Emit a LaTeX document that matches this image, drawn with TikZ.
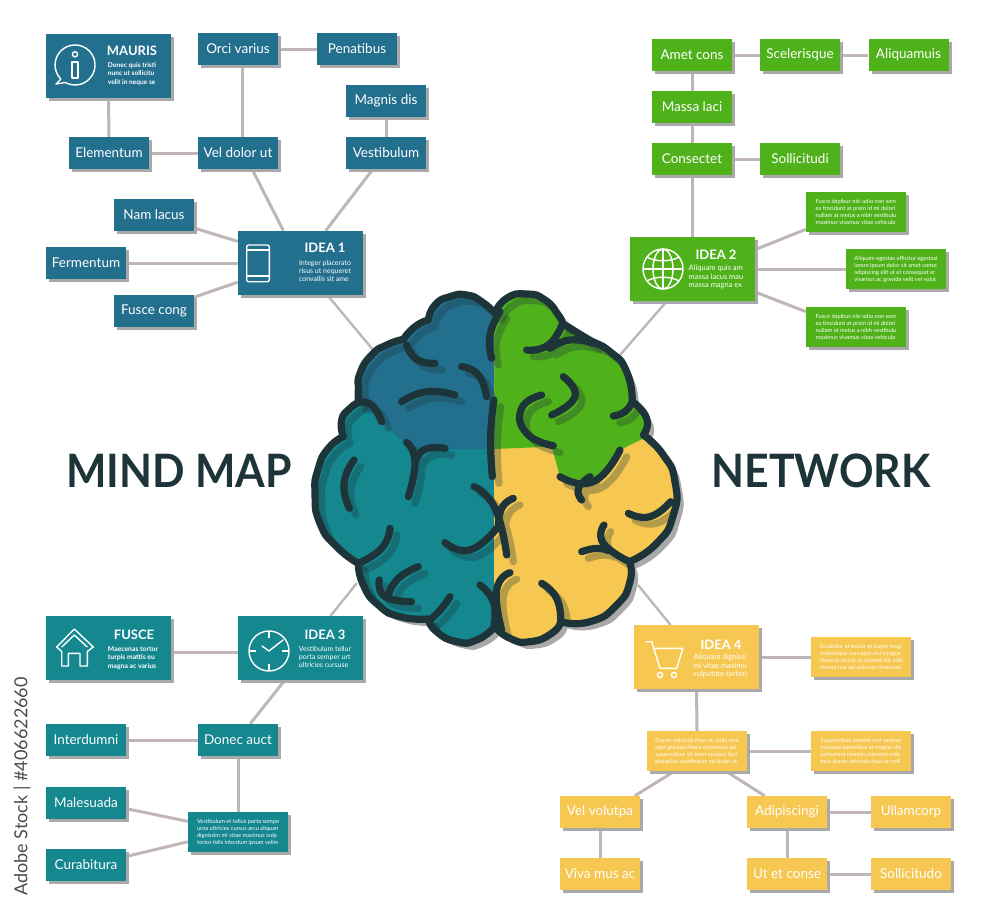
\documentclass[tikz,border=0pt]{standalone}
\usepackage{fontspec}
\setmainfont{Lato}
\usetikzlibrary{shadows,backgrounds}
\definecolor{ideablue}{HTML}{236F8E}
\definecolor{ideateal}{HTML}{14878F}
\definecolor{ideagreen}{HTML}{50B21A}
\definecolor{ideayellow}{HTML}{F6C852}
\definecolor{linkgray}{HTML}{BFB5BA}
\definecolor{shadegray}{HTML}{A9A9A9}
\definecolor{braindark}{HTML}{1D3439}
\tikzset{
	flatbox/.style={draw=none,inner sep=0pt,text=white,drop shadow={shadow xshift=3pt,shadow yshift=-3pt,fill=shadegray,opacity=1}},
	wordbox/.style={flatbox,minimum width=80,minimum height=32,font=\fontsize{13.5}{15}\selectfont},
	ideabox/.style={flatbox,minimum width=125,minimum height=64},
	notebox/.style={flatbox,minimum width=100,minimum height=40,align=left,font=\fontsize{5.7}{7}\selectfont},
	headtext/.style={text=white,inner sep=0pt,font=\fontsize{13}{14}\bfseries\selectfont},
	bodytext/.style={text=white,inner sep=0pt,align=left,font=\fontsize{7}{8.4}\selectfont},
	icon/.style={draw=white,line width=1.4pt,line join=round},
	link/.style={draw=linkgray,line width=3pt},
	fold/.style={draw=braindark,line width=7.2pt,line cap=round,line join=round},
	rim/.style={smooth,tension=1},
	title/.style={text=braindark,inner sep=0pt,xscale=.93,font=\fontsize{46}{50}\bfseries\selectfont}
}
\newcommand{\foldline}[1]{plot[smooth,tension=.9] coordinates {#1}}
\newcommand{\brainrim}{
	plot[rim] coordinates {(585,100) (620,55) (680,42) (735,60) (775,105) (788,130)}
	-- plot[rim] coordinates {(788,130) (860,175) (930,215) (980,275) (997,365)}
	-- plot[rim] coordinates {(997,365) (1040,415) (1030,465)}
	-- plot[rim] coordinates {(1030,465) (1090,525) (1125,605) (1120,705) (1070,790) (988,845)}
	-- plot[rim] coordinates {(988,845) (990,905) (950,975) (870,1025) (782,1025)}
	-- plot[rim] coordinates {(782,1025) (755,1060) (690,1085) (630,1075) (585,1040)}
	-- plot[rim] coordinates {(585,1040) (530,1080) (470,1085) (410,1055) (385,1017)}
	-- plot[rim] coordinates {(385,1017) (300,1010) (235,975) (190,915) (175,850)}
	-- plot[rim] coordinates {(175,850) (110,800) (60,730) (45,640) (55,565) (85,505) (130,470)}
	-- plot[rim] coordinates {(130,470) (125,420) (150,385) (175,368)}
	-- plot[rim] coordinates {(175,368) (175,330) (180,280) (215,225) (260,195) (310,178)}
	-- plot[rim] coordinates {(310,178) (345,140) (385,120)}
	-- plot[rim] coordinates {(385,120) (405,75) (450,50) (500,45) (545,65) (585,100)}
	-- cycle
}
\newcommand{\brainfolds}{
	\foldline{(320,195) (350,238) (405,250)}
	\foldline{(485,260) (535,285) (560,350)}
	\foldline{(305,365) (380,335) (465,345)}
	\foldline{(575,235) (570,165) (600,95)}
	\foldline{(582,360) (572,470) (577,590)}
	\foldline{(175,368) (215,375) (245,425)}
	\foldline{(320,487) (345,545) (325,650)}
	\foldline{(345,545) (375,508) (435,505)}
	\foldline{(162,540) (132,610) (148,685)}
	\foldline{(270,745) (245,805) (175,850)}
	\foldline{(522,620) (585,685) (620,825)}
	\foldline{(640,655) (605,685) (595,745)}
	\foldline{(435,788) (510,810) (590,745)}
	\foldline{(355,860) (295,895) (265,945)}
	\foldline{(238,900) (255,950) (335,965)}
	\foldline{(450,950) (425,985) (390,1020)}
	\foldline{(540,915) (580,965) (582,1035)}
	\foldline{(630,878) (590,930) (605,1050)}
	\foldline{(725,910) (770,955) (782,1025)}
	\foldline{(680,210) (745,195) (788,130)}
	\foldline{(750,205) (810,180) (880,190)}
	\foldline{(790,290) (825,350) (755,405)}
	\foldline{(725,345) (665,385) (680,460) (760,497)}
	\foldline{(940,408) (975,395) (997,365)}
	\foldline{(780,590) (880,605) (960,510)}
	\foldline{(845,660) (835,625) (870,590)}
	\foldline{(985,700) (1050,710) (1112,665)}
	\foldline{(912,735) (910,790) (988,845)}
	\foldline{(845,815) (890,805) (925,812)}
}
\begin{document}
\begin{tikzpicture}[x=1pt,y=-1pt]
	\useasboundingbox (0,0) rectangle (1000,919);

	% idea 1, blue
	\node[ideabox,fill=ideablue] (mauris) at (108.5,65.5) {};
	\node[headtext] (maurishead) at (132,51) {MAURIS};
	\node[bodytext,font=\fontsize{6.6}{8.5}\bfseries\selectfont] (maurisbody) at (132,74) {Donec quis tristi\\nunc ut sollicitu\\velit in neque se};
	\node[wordbox,fill=ideablue] (orci) at (238,49) {Orci varius};
	\node[wordbox,fill=ideablue] (penatibus) at (357,49) {Penatibus};
	\node[wordbox,fill=ideablue] (magnis) at (386,101) {Magnis dis};
	\node[wordbox,fill=ideablue] (elementum) at (109,153) {Elementum};
	\node[wordbox,fill=ideablue] (veldolor) at (238,153) {Vel dolor ut};
	\node[wordbox,fill=ideablue] (vestibulum) at (386,153) {Vestibulum};
	\node[wordbox,fill=ideablue] (namlacus) at (154,215) {Nam lacus};
	\node[wordbox,fill=ideablue] (fermentum) at (86,263) {Fermentum};
	\node[wordbox,fill=ideablue] (fuscecong) at (154,311) {Fusce cong};
	\node[ideabox,fill=ideablue] (idea1) at (300.5,263) {};
	\node[headtext] (idea1head) at (325,248) {IDEA 1};
	\node[bodytext] (idea1body) at (325,271) {Integer placerato\\risus ut nequeret\\convallis sit ame};

	% idea 2, green
	\node[wordbox,fill=ideagreen] (ametcons) at (692,55) {Amet cons};
	\node[wordbox,fill=ideagreen] (scelerisque) at (800,55) {Scelerisque};
	\node[wordbox,fill=ideagreen] (aliquamuis) at (908.5,55) {Aliquamuis};
	\node[wordbox,fill=ideagreen] (massalaci) at (692,107) {Massa laci};
	\node[wordbox,fill=ideagreen] (consectet) at (692,159) {Consectet};
	\node[wordbox,fill=ideagreen] (sollicitudi) at (800,159) {Sollicitudi};
	\node[ideabox,fill=ideagreen] (idea2) at (692,269) {};
	\node[headtext] (idea2head) at (716,255) {IDEA 2};
	\node[bodytext,font=\fontsize{7.5}{8.4}\selectfont] (idea2body) at (716,277) {Aliquam quis am\\massa lacus mau\\massa magna ex};
	\node[notebox,fill=ideagreen] (noteup) at (856,212) {Fusce dapibus nisi odio non sem\\ex tincidunt at proin id mi dolori\\nullam at metus a nibh vestibulu\\maximus vivamus vitae vehicula};
	\node[notebox,fill=ideagreen] (notemid) at (896,269) {Aliquam egestas efficitur egestasi\\lorem ipsum dolor sit amet conse\\adipiscing elit ut et consequat er\\vivamus ac gravida velit vel volut};
	\node[notebox,fill=ideagreen] (notedown) at (856,327) {Fusce dapibus nisi odio non sem\\ex tincidunt at proin id mi dolori\\nullam at metus a nibh vestibulu\\maximus vivamus vitae vehicula};

	% idea 3, teal
	\node[ideabox,fill=ideateal] (fusce) at (108.5,648) {};
	\node[headtext] (fuscehead) at (134,635) {FUSCE};
	\node[bodytext,font=\fontsize{6.8}{8.4}\bfseries\selectfont] (fuscebody) at (133,658) {Maecenas tortor\\turpis mattis eu\\magna ac varius};
	\node[ideabox,fill=ideateal] (idea3) at (300.5,648) {};
	\node[headtext] (idea3head) at (325,635) {IDEA 3};
	\node[bodytext] (idea3body) at (325,657) {Vestibulum tellur\\porta semper urt\\ultricies cursuse};
	\node[wordbox,fill=ideateal] (interdumni) at (86,740) {Interdumni};
	\node[wordbox,fill=ideateal] (donecauct) at (238,740) {Donec auct};
	\node[wordbox,fill=ideateal] (malesuada) at (86,803) {Malesuada};
	\node[wordbox,fill=ideateal] (curabitura) at (86,865) {Curabitura};
	\node[notebox,fill=ideateal] (notetellus) at (238,832) {Vestibulum et tellus porta sempe\\urna ultricies cursus arcu aliquan\\dignissim mi vitae maximus vulp\\tortor felis interdum ipsum velim};

	% idea 4, yellow
	\node[ideabox,fill=ideayellow] (idea4) at (696.5,657) {};
	\node[headtext] (idea4head) at (721,645) {IDEA 4};
	\node[bodytext,align=center,font=\fontsize{7.5}{8.4}\selectfont] (idea4body) at (720,666) {Aliquam dignissi\\mi vitae maximu\\vulputate tortori};
	\node[notebox,fill=ideayellow] (notecura) at (861,657) {Curabitur at lectus et turpis feugi\\scelerisque cras eget nisi congue\\rhoncus lectus ac laoreet elit orbi\\viverra nisi vel pulvinar rhoncuso};
	\node[notebox,fill=ideayellow] (notedonec) at (697,751) {Donec vehicula risus ac nulla vive\\eget gravida libero commodo axi\\suspendisse sit amet tempus lect\\phasellus vestibulum vel dolor ut};
	\node[notebox,fill=ideayellow] (notesusp) at (861,751) {Suspendisse potenti orci variuse\\natoque penatibus et magnis dis\\parturient montes nascetur ridic\\mus donec vehicula risus ac null};
	\node[wordbox,fill=ideayellow] (velvolutpa) at (600,812) {Vel volutpa};
	\node[wordbox,fill=ideayellow] (vivamus) at (600,874) {Viva mus ac};
	\node[wordbox,fill=ideayellow] (adipiscingi) at (787,812) {Adipiscingi};
	\node[wordbox,fill=ideayellow] (utetconse) at (787,874) {Ut et conse};
	\node[wordbox,fill=ideayellow] (ullamcorp) at (911,812) {Ullamcorp};
	\node[wordbox,fill=ideayellow] (sollicitudo) at (911,874) {Sollicitudo};

	\node[title] (mindmap) at (179,471) {MIND MAP};
	\node[title] (network) at (821,471) {NETWORK};
	\node[rotate=90,anchor=east,inner sep=0pt,text=black!70,font=\fontsize{18}{20}\selectfont] (stockmark) at (22,677) {Adobe Stock | \#406622660};

	\coordinate (brainnw) at (374,351);
	\coordinate (brainne) at (620,355);
	\coordinate (brainsw) at (357,583);
	\coordinate (brainse) at (638,585);

	\begin{scope}[on background layer]
		\draw[link] (mauris.south) -- (elementum.north);
		\draw[link] (elementum.east) -- (veldolor.west);
		\draw[link] ([xshift=4pt]orci.south) -- ([xshift=4pt]veldolor.north);
		\draw[link] (orci.east) -- (penatibus.west);
		\draw[link] (magnis.south) -- (vestibulum.north);
		\draw[link] (veldolor.-49) -- (idea1.118);
		\draw[link] (vestibulum.231) -- (idea1.52.6);
		\draw[link] (namlacus.-18) -- (idea1.161.4);
		\draw[link] (fermentum.east) -- (idea1.west);
		\draw[link] (fuscecong.19) -- (idea1.197.7);
		\draw[link,line width=2.4pt] (idea1.-50.4) -- (brainnw);

		\draw[link] (ametcons.east) -- (scelerisque.west);
		\draw[link] (scelerisque.east) -- (aliquamuis.west);
		\draw[link] (ametcons.south) -- (massalaci.north);
		\draw[link] (massalaci.south) -- (consectet.north);
		\draw[link] (consectet.east) -- (sollicitudi.west);
		\draw[link] (consectet.south) -- (idea2.north);
		\draw[link] (idea2.17.6) -- (noteup.199.8);
		\draw[link] (idea2.east) -- (notemid.west);
		\draw[link] (idea2.-20.9) -- (notedown.163);
		\draw[link,line width=2.4pt] (idea2.232) -- (brainne);

		\draw[link,line width=2.4pt] (idea3.47.3) -- (brainsw);
		\draw[link] ([yshift=-4pt]fusce.east) -- ([yshift=-4pt]idea3.west);
		\draw[link] (idea3.244) -- (donecauct.53);
		\draw[link] (interdumni.east) -- (donecauct.west);
		\draw[link] (donecauct.south) -- (notetellus.north);
		\draw[link] (malesuada.-8.5) -- (notetellus.168.7);
		\draw[link] (curabitura.12.7) -- (notetellus.191.3);

		\draw[link,line width=2.4pt] (idea4.129.6) -- (brainse);
		\draw[link] (idea4.east) -- (notecura.west);
		\draw[link] (idea4.south) -- (notedonec.north);
		\draw[link] (notedonec.east) -- (notesusp.west);
		\draw[link] (notedonec.222) -- (velvolutpa.25.9);
		\draw[link] (notedonec.-35.5) -- (adipiscingi.144);
		\draw[link] (velvolutpa.south) -- (vivamus.north);
		\draw[link] (adipiscingi.south) -- (utetconse.north);
		\draw[link] (adipiscingi.east) -- (ullamcorp.west);
		\draw[link] (utetconse.east) -- (sollicitudo.west);
	\end{scope}

	% icons
	\draw[icon] (60.9,79.1) arc[start angle=135,end angle=479,radius=20] -- (56,84) -- cycle;
	\draw[icon] (75,54.3) circle[radius=2.6];
	\draw[icon] (72,62) rectangle (78,78);
	\draw[icon,rounded corners=2pt] (246.7,245) rectangle (269.3,281.7);
	\draw[icon] (246.7,250) -- (269.3,250) (246.7,276) -- (269.3,276);
	\draw[icon] (663,269) circle[radius=20];
	\draw[icon] (663,269) circle[x radius=10,y radius=20];
	\draw[icon] (643,269) -- (683,269) (663,249) -- (663,289);
	\draw[icon] (647,257) .. controls (655,262) and (671,262) .. (679,257);
	\draw[icon] (647,281) .. controls (655,276) and (671,276) .. (679,281);
	\draw[icon] (74.3,629) -- (93.3,647) -- (87.3,651.5) -- (87.3,666) -- (80,666) -- (80,653.3) -- (68.3,653.3) -- (68.3,666) -- (61.7,666) -- (61.7,651.5) -- (56.7,647) -- cycle;
	\draw[icon] (61.7,647) -- (74.3,635) -- (87.3,647);
	\draw[icon] (269,651) circle[radius=20];
	\draw[icon] (269,631) -- (269,638) (269,664) -- (269,671) (249,651) -- (256,651) (282,651) -- (289,651);
	\draw[icon,line cap=round] (262,646) -- (269,651) -- (283,640);
	\draw[icon] (646,641.7) -- (651.7,641.7) -- (660,668.3) -- (676.7,668.3) -- (682.7,648.3) -- (654,648.3);
	\draw[icon] (660,675) circle[radius=2.6] (674,675) circle[radius=2.6];

	% brain
	\begin{scope}[shift={(300,280)},scale=1/3]
		\fill[shadegray,shift={(20,20)}] \brainrim;
		\begin{scope}
			\clip \brainrim;
			\fill[ideateal] (0,0) rectangle (583,1140);
			\fill[ideayellow] (583,0) rectangle (1200,1140);
			\fill[ideablue] (583,0) -- (583,507) -- (380,507) -- (340,515) -- (245,425) -- (175,368) -- (0,300) -- (0,0) -- cycle;
			\fill[ideagreen] (583,0) -- (583,507) -- (755,500) -- (780,590) -- (880,605) -- (960,510) -- (1025,478) -- (1200,420) -- (1200,0) -- cycle;
			\draw[fold,opacity=.3,shift={(20,20)}] \brainrim;
			\draw[fold,opacity=.3,shift={(20,20)}] \brainfolds;
		\end{scope}
		\draw[fold] \brainrim;
		\draw[fold] \brainfolds;
	\end{scope}
\end{tikzpicture}
\end{document}
